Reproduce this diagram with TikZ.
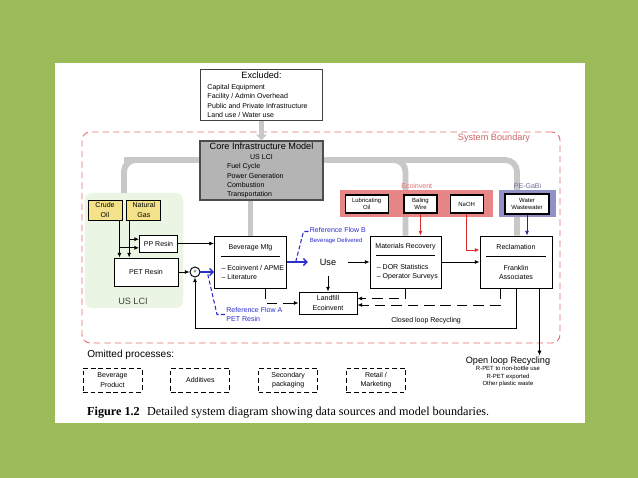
\documentclass[tikz,border=0pt]{standalone}
\usepackage{fontspec}
\setmainfont{Liberation Sans}
\newfontfamily\capfont{Liberation Serif}
\usetikzlibrary{arrows.meta, positioning}

\definecolor{pagegreen}{RGB}{155,187,89}
\definecolor{lcigreen}{RGB}{234,246,227}
\definecolor{fuelyellow}{RGB}{243,226,137}
\definecolor{coregray}{RGB}{180,180,180}
\definecolor{busgray}{RGB}{200,200,200}
\definecolor{ecored}{RGB}{231,134,134}
\definecolor{gabiblue}{RGB}{145,145,200}
\definecolor{bndred}{RGB}{226,112,112}
\definecolor{refblue}{RGB}{45,45,205}
\definecolor{inred}{RGB}{215,45,45}
\definecolor{innavy}{RGB}{40,40,140}

\newcommand{\hugetxt}{\fontsize{8.6}{10}\selectfont}
\newcommand{\bigtxt}{\fontsize{7.8}{9.4}\selectfont}
\newcommand{\boxtxt}{\fontsize{6}{8}\selectfont}
\newcommand{\tinytxt}{\fontsize{5.1}{6.4}\selectfont}

\tikzstyle{stage} = [rectangle, draw=black, line width=0.8pt, fill=white, minimum width=2.16cm, minimum height=1.56cm, inner sep=1pt, align=center, font=\boxtxt]
\tikzstyle{resin} = [rectangle, draw=black, line width=0.8pt, fill=white, inner sep=1pt, align=center, font=\boxtxt]
\tikzstyle{fuel} = [resin, fill=fuelyellow, minimum width=1.02cm, minimum height=0.6cm]
\tikzstyle{supply} = [rectangle, draw=black, line width=0.9pt, fill=white, minimum height=0.54cm, inner sep=1pt, align=center, font=\tinytxt]
\tikzstyle{band} = [rectangle, draw=none, minimum height=0.81cm]
\tikzstyle{omitted} = [rectangle, draw=black, dash pattern=on 4pt off 2.5pt, line width=0.7pt, minimum width=1.77cm, minimum height=0.72cm, align=center, font=\boxtxt]
\tikzstyle{flow} = [line width=0.7pt, -{Latex[length=4pt, width=3.5pt]}]
\tikzstyle{lossflow} = [flow, dash pattern=on 9pt off 5pt]
\tikzstyle{refflow} = [refblue, line width=1pt, -{Straight Barb[length=3pt, width=6pt, line width=1.1pt]}]
\tikzstyle{refdash} = [refblue, line width=0.9pt, dash pattern=on 3.5pt off 2pt]
\tikzstyle{infra} = [busgray, line width=5pt, rounded corners=10pt]
\tikzstyle{reflabel} = [anchor=west, text=refblue, align=left, inner sep=1pt, font=\boxtxt]

\begin{document}
\begin{tikzpicture}[x=0.03cm, y=-0.03cm]

% Frame
\fill[pagegreen] (0,0) rectangle (638,478);
\fill[white] (55,63) rectangle (585,423);

% Zones
\node[draw=bndred, line width=0.8pt, dash pattern=on 5.5pt off 3.5pt, rounded corners=7pt, minimum width=14.34cm, minimum height=6.33cm] (boundary) at (321,237.5) {};
\node[text=bndred!90!black, font=\bigtxt] (bndlabel) at (494,138) {System Boundary};
\node[fill=lcigreen, rounded corners=6pt, minimum width=2.94cm, minimum height=3.45cm] (lci) at (134,250.5) {};
\node[text=black!75, font=\bigtxt] (lcilabel) at (133,301) {US LCI};

% Stages
\node[stage] (bev) at (250.5,262) {Beverage Mfg\\[-2pt]\rule{1.78cm}{0.5pt}\\[3.5pt]\makebox[1.74cm][l]{-- Ecoinvent / APME}\\\makebox[1.74cm][l]{-- Literature}};
\node[stage, minimum width=2.13cm] (mrec) at (405.5,262) {Materials Recovery\\[-2pt]\rule{1.78cm}{0.5pt}\\[3.5pt]\makebox[1.72cm][l]{-- DOR Statistics}\\\makebox[1.72cm][l]{-- Operator Surveys}};
\node[stage] (recl) at (516,262) {Reclamation\\[-2pt]\rule{1.78cm}{0.5pt}\\[3.5pt]Franklin\\Associates};

% Infrastructure links
\coordinate (busW) at (124,160);
\coordinate (busE) at (517,160);
\draw[infra] (busW |- lci.north) -- (busW) -- (busE) -- (busE |- recl.north);
\draw[infra] (busW) -| (mrec.north);
\draw[infra] (bev.north |- busW) -- (bev.north);

\node[draw=black!70, line width=1pt, fill=coregray, minimum width=3.69cm, minimum height=1.77cm, align=center, font=\boxtxt, inner sep=1pt] (core) at (261.5,170.5) {{\bigtxt Core Infrastructure Model}\\[0.5pt]US LCI\\\makebox[2.07cm][l]{Fuel Cycle}\\\makebox[2.07cm][l]{Power Generation}\\\makebox[2.07cm][l]{Combustion}\\\makebox[2.07cm][l]{Transportation}};
\node[draw=black!75, line width=0.9pt, fill=white, minimum width=3.66cm, minimum height=1.53cm, align=left, font=\boxtxt, inner sep=1pt] (excl) at (261.5,95) {\makebox[3.24cm]{\bigtxt Excluded:}\\[1pt]Capital Equipment\\Facility / Admin Overhead\\Public and Private Infrastructure\\Land use / Water use};

% Data sources
\node[band, fill=ecored, minimum width=4.6cm] (eco) at (416.75,203.5) {};
\node[band, fill=gabiblue, minimum width=1.71cm] (gabi) at (527.5,203.5) {};
\node[above, text=bndred, font=\boxtxt, inner sep=1pt] (ecolabel) at (eco.north) {Ecoinvent};
\node[above, text=gabiblue!75!black, font=\boxtxt, inner sep=1pt] (gabilabel) at (gabi.north) {PE-GaBi};
\node[supply, minimum width=1.28cm] (oil) at (366.7,204) {Lubricating\\Oil};
\node[supply, minimum width=0.99cm] (wire) at (420.5,204) {Baling\\Wire};
\node[supply, minimum width=1cm] (naoh) at (466.7,204) {NaOH};
\node[supply, minimum width=1.32cm, minimum height=0.6cm] (water) at (527,204) {Water\\Wastewater};

\node[fuel] (crude) at (105,210) {Crude\\Oil};
\node[fuel, right=0.12cm of crude] (gas) {Natural\\Gas};
\node[resin, minimum width=1.14cm, minimum height=0.51cm] (pp) at (158.5,243.5) {PP Resin};
\node[resin, minimum width=1.92cm, minimum height=0.84cm] (pet) at (146,272) {PET Resin};
\node[circle, draw=black, line width=0.8pt, fill=white, minimum size=0.3cm, inner sep=0pt, font=\tinytxt] (sum) at (195,272) {+};

\node[font=\bigtxt, minimum width=1.2cm, minimum height=0.84cm, inner sep=0pt] (use) at (328,262) {Use};
\node[resin, minimum width=1.74cm, minimum height=0.66cm] (landfill) at (328,303) {Landfill\\Ecoinvent};
\node[align=center, inner sep=1pt, font=\tinytxt] (openloop) at (508,372) {{\bigtxt Open loop Recycling}\\R-PET to non-bottle use\\R-PET exported\\Other plastic waste};

% Reference flows
\path (sum.east) -- coordinate[pos=0.5] (tipA) (sum.east -| bev.west);
\path (bev.east) -- coordinate[pos=0.42] (tipB) (use.west);
\node[reflabel] (refA) at (225,314.5) {Reference Flow A\\PET Resin};
\node[reflabel] (refB) at (308.5,235.5) {Reference Flow B\\{\tinytxt Beverage Delivered}};

% Arrows
\coordinate (crudedrop) at ([xshift=-0.09cm]crude.south east);
\coordinate (gasdrop) at ([xshift=0.08cm]gas.south west);
\coordinate (ppin1) at ([yshift=0.13cm]pp.west);
\coordinate (ppin2) at ([yshift=-0.13cm]pp.west);
\draw[flow] (crudedrop) -- (crudedrop |- pet.north);
\draw[flow] (gasdrop) -- (gasdrop |- pet.north);
\draw[flow] (gasdrop |- ppin1) -- (ppin1);
\draw[flow] (crudedrop |- ppin2) -- (ppin2);
\draw[flow] (pp.east) -- (pp.east -| bev.west);
\draw[flow] (pet) -- (sum);
\draw[refflow] (sum) -- (sum -| bev.west);
\draw[refflow] (bev.east) -- (use.west);
\draw[refdash] (refA.west) -- ++(-8,0) -- (tipA);
\draw[refdash] ([yshift=0.12cm]refB.west) -- ++(-5,0) -- (tipB);
\draw[flow] (use) -- (mrec);
\draw[flow] (mrec) -- (recl);
\draw[flow] (use) -- (landfill);
\coordinate (bevdrop) at ([xshift=0.435cm]bev.south);
\draw[lossflow] (bevdrop) |- (landfill.west);
\draw[lossflow] (mrec.south) |- ([yshift=0.135cm]landfill.east);
\coordinate (recldrop) at ([xshift=-0.48cm]recl.south);
\draw[lossflow] (recldrop) |- ([yshift=-0.06cm]landfill.east);
\draw[flow] (recl.south) -- ++(0,40) coordinate (loopturn) -- node[above, pos=0.28, font=\boxtxt] (looplabel) {Closed loop Recycling} (loopturn -| sum.south) -- (sum.south);
\coordinate (opendrop) at ([xshift=-0.39cm]recl.south east);
\draw[flow] (opendrop) -- (opendrop |- openloop.north);
\draw[flow, inred] (wire.south) -- (wire.south |- mrec.north);
\coordinate (naohin) at ([yshift=0.36cm]recl.west);
\draw[flow, inred] (naoh.south) |- (naohin);
\draw[flow, innavy] (water.south) -- (water.south |- recl.north);
\draw[infra, -{Triangle[length=5pt, width=9pt]}] (excl.south) -- (core.north);

% Omitted processes
\node[anchor=west, font=\hugetxt, inner sep=1pt] (omlabel) at (86,355) {Omitted processes:};
\node[omitted] (om1) at (112.5,380) {Beverage\\Product};
\node[omitted, right=0.84cm of om1] (om2) {Additives};
\node[omitted, right=0.84cm of om2] (om3) {Secondary\\packaging};
\node[omitted, right=0.84cm of om3] (om4) {Retail /\\Marketing};

% Caption
\node[anchor=west, font=\capfont\fontsize{10.4}{12}\selectfont, inner sep=0pt] (caption) at (87,413) {\textbf{Figure 1.2}\hspace{0.6em}Detailed system diagram showing data sources and model boundaries.};

\end{tikzpicture}
\end{document}
